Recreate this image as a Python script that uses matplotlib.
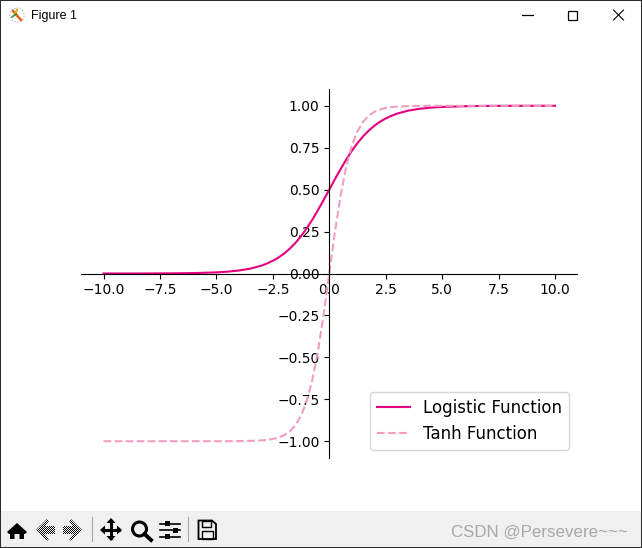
import matplotlib
matplotlib.use("Agg")
import matplotlib.pyplot as plt
import numpy as np
from matplotlib.patches import Circle, Polygon, Rectangle

# values
x_vals = [-10, -9, -8, -7, -6, -5, -4.5, -4, -3.5, -3, -2.75, -2.5, -2.25, -2, -1.75, -1.5,
          -1.25, -1, -0.75, -0.5, -0.25, 0, 0.25, 0.5, 0.75, 1, 1.25, 1.5, 1.75, 2, 2.25,
          2.5, 2.75, 3, 3.5, 4, 4.5, 5, 6, 7, 8, 9, 10]
logistic_vals = [0.0001, 0.0001, 0.0003, 0.0009, 0.0025, 0.0067, 0.011, 0.018, 0.029, 0.047,
                 0.06, 0.076, 0.095, 0.119, 0.148, 0.182, 0.223, 0.269, 0.321, 0.378, 0.438,
                 0.5, 0.562, 0.622, 0.679, 0.731, 0.777, 0.818, 0.852, 0.881, 0.905, 0.924,
                 0.94, 0.953, 0.971, 0.982, 0.989, 0.993, 0.9975, 0.9991, 0.9997, 0.9999, 0.9999]
tanh_vals = [-1, -1, -1, -1, -1, -0.9999, -0.9998, -0.999, -0.998, -0.995, -0.992, -0.987,
             -0.978, -0.964, -0.941, -0.905, -0.848, -0.762, -0.635, -0.462, -0.245, 0, 0.245,
             0.462, 0.635, 0.762, 0.848, 0.905, 0.941, 0.964, 0.978, 0.987, 0.992, 0.995,
             0.998, 0.999, 0.9998, 0.9999, 1, 1, 1, 1, 1]
x_ticks = [-10, -7.5, -5, -2.5, 0, 2.5, 5, 7.5, 10]
y_ticks = [-1, -0.75, -0.5, -0.25, 0, 0.25, 0.5, 0.75, 1]

W, H = 642, 548
fig = plt.figure(figsize=(W / 100, H / 100), dpi=100, facecolor="white")

# window frame, title bar and toolbar drawn in pixel coordinates
chrome = fig.add_axes([0, 0, 1, 1], zorder=0)
chrome.add_patch(Rectangle((0, 511), W, 37, fc="#f0f0f0", ec="none"))
for r in [(0, 0, W, 1), (0, 547, W, 1), (0, 0, 1, H), (641, 0, 1, H)]:
    chrome.add_patch(Rectangle((r[0], r[1]), r[2], r[3], fc="#2b2b2b", ec="none"))

chrome.text(31, 15.5, "Figure 1", fontsize=9, family="Liberation Sans", va="center", color="black")
chrome.add_patch(Circle((17, 15), 7, fc="white", ec="#aaaaaa", ls=":", lw=0.8))
chrome.plot([13, 21], [11, 20], color="#e2641a", lw=1.8)
chrome.plot([15, 17], [14, 10], color="#e0b010", lw=1.6)
chrome.plot([12, 16], [17, 14], color="#3a8f3a", lw=1.2)

chrome.plot([522, 533], [15, 15], color="black", lw=0.9)
chrome.add_patch(Rectangle((568, 10.5), 9, 9.5, fc="none", ec="black", lw=0.9))
chrome.plot([613.5, 623.5], [10, 20], color="black", lw=0.8)
chrome.plot([613.5, 623.5], [20, 10], color="black", lw=0.8)

# home
chrome.add_patch(Polygon([(7, 532), (17, 523), (27, 532), (25, 534), (24, 534), (24, 539), (19.5, 539),
                          (19.5, 534), (14.5, 534), (14.5, 539), (10, 539), (10, 534), (9, 534)],
                         fc="black", ec="none"))

# back / forward arrows are dithered in the reference
def dither_arrow(pts):
    xs = [p[0] for p in pts]
    ys = [p[1] for p in pts]
    x0, x1, y0, y1 = min(xs), max(xs), min(ys), max(ys)
    rows, cols = np.indices((int(y1 - y0), int(x1 - x0)))
    img = chrome.imshow((rows + cols) % 2, extent=(x0, x1, y1, y0), cmap="gray", vmin=0, vmax=1,
                        interpolation="nearest", aspect="auto", zorder=2)
    clip = Polygon(pts, transform=chrome.transData)
    img.set_clip_path(clip)


back_pts = [(36, 530), (47, 519), (49, 521), (45, 526), (55, 526), (55, 534), (45, 534), (49, 539), (47, 541)]
dither_arrow(back_pts)
dither_arrow([(118 - p[0], p[1]) for p in back_pts])

for sx in (92, 188):
    chrome.plot([sx, sx], [517, 541], color="#a8a8a8", lw=0.8)
# move
chrome.plot([103, 119], [530, 530], color="black", lw=2.2)
chrome.plot([111, 111], [521, 538], color="black", lw=2.2)
for tri in ([(111, 518), (106.5, 523), (115.5, 523)], [(111, 541), (106.5, 536), (115.5, 536)],
            [(100, 530), (105, 525.5), (105, 534.5)], [(122, 530), (117, 525.5), (117, 534.5)]):
    chrome.add_patch(Polygon(tri, fc="black", ec="none"))
# zoom
chrome.add_patch(Circle((139.5, 529), 7, fc="none", ec="black", lw=2.2))
chrome.plot([144.5, 151], [534, 540], color="black", lw=2.8)
# sliders
for sy, kx in ((523.5, 167), (530, 175), (536.5, 167)):
    chrome.plot([160, 180], [sy, sy], color="black", lw=1.2)
    chrome.add_patch(Rectangle((kx - 2.5, sy - 2.5), 5, 5, fc="black", ec="none"))
# save
chrome.add_patch(Polygon([(198.5, 520.5), (212, 520.5), (216, 524), (216, 539), (198.5, 539)],
                         fc="none", ec="black", lw=1.3))
chrome.add_patch(Rectangle((202, 520.5), 8.5, 6, fc="none", ec="black", lw=1))
chrome.add_patch(Rectangle((201.5, 531), 11.5, 8, fc="none", ec="black", lw=1))

chrome.text(451, 532, "CSDN @Persevere~~~", fontsize=12.2, family="Liberation Sans", va="center",
            color="#a8a8a8")

chrome.set_xlim(0, W)
chrome.set_ylim(H, 0)
chrome.axis("off")

# the chart itself
ax = fig.add_axes([81 / W, 1 - 458 / H, (577.5 - 81) / W, (458 - 89) / H], zorder=1)
ax.patch.set_alpha(0)
ax.plot(x_vals, logistic_vals, color="#e4007f", label="Logistic Function")
ax.plot(x_vals, tanh_vals, color="#f19ec2", ls="--", label="Tanh Function")
ax.set_xlim(-11, 11)
ax.set_ylim(-1.1, 1.1)
ax.set_xticks(x_ticks)
ax.set_yticks(y_ticks)
ax.spines["top"].set_visible(False)
ax.spines["right"].set_visible(False)
ax.spines["left"].set_position(("data", 0))
ax.spines["bottom"].set_position(("data", 0))
ax.legend(loc="lower right", fontsize=12)

fig.savefig("out.png", dpi=100)
